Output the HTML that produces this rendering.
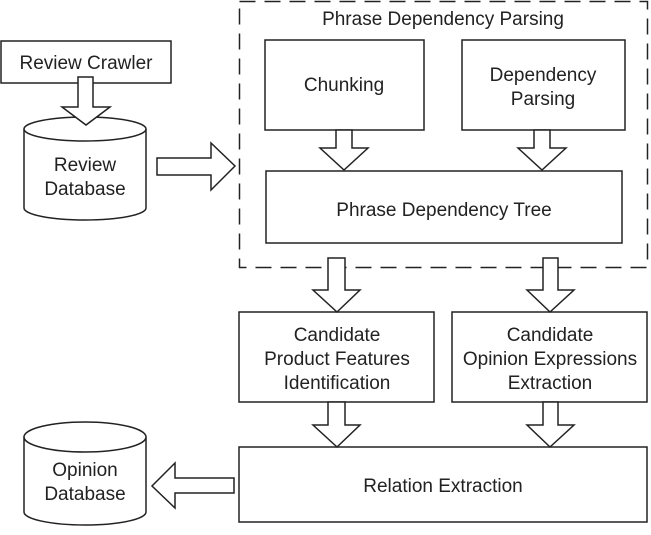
<!DOCTYPE html>
<html><head><style>body{margin:0;background:#fff}</style></head><body>
<svg width="651" height="530" xmlns="http://www.w3.org/2000/svg" font-family="Liberation Sans, sans-serif" font-size="19" fill="#222">
<g stroke="#222" stroke-width="1.5" fill="#fff">
<rect x="239.5" y="1.5" width="408" height="266" stroke-dasharray="16,9" fill="none"/>
<rect x="1" y="41" width="170" height="42"/>
<rect x="265" y="40" width="159" height="90"/>
<rect x="462" y="40" width="163" height="90"/>
<rect x="266" y="171" width="356" height="72"/>
<rect x="239" y="312" width="195" height="90"/>
<rect x="452" y="312" width="195" height="90"/>
<rect x="239" y="447" width="408" height="75"/>
<path d="M24,129 V208 A61,12 0 0 0 146,208 V129"/>
<ellipse cx="85" cy="129" rx="61" ry="12"/>
<path d="M24,437 V512 A61,13 0 0 0 146,512 V437"/>
<ellipse cx="85" cy="437" rx="61" ry="15"/>
<path d="M78,77 H93 V107 H110 L86,125 L62,107 H78 Z"/>
<path d="M157,158 H211 V143 L235,166 L211,190 V175 H157 Z"/>
<path d="M336,130 H352 V148 H368 L344,170 L320,148 H336 Z"/>
<path d="M534,130 H550 V148 H566 L542,170 L518,148 H534 Z"/>
<path d="M328,258 H345 V290 H360 L337,312 L313,290 H328 Z"/>
<path d="M543,258 H558 V290 H574 L550,312 L527,290 H543 Z"/>
<path d="M328,402 H345 V425 H360 L337,447 L313,425 H328 Z"/>
<path d="M543,402 H558 V425 H574 L550,447 L527,425 H543 Z"/>
<path d="M234,478 V493 H175 V508 L152,486 L175,463 V478 Z"/>
</g>
<g text-anchor="middle" stroke="none">
<text x="86" y="69">Review Crawler</text>
<text x="85" y="171">Review</text>
<text x="85" y="195">Database</text>
<text x="443" y="25">Phrase Dependency Parsing</text>
<text x="344" y="91">Chunking</text>
<text x="543" y="81">Dependency</text>
<text x="543" y="105">Parsing</text>
<text x="444" y="216">Phrase Dependency Tree</text>
<text x="337" y="341">Candidate</text>
<text x="337" y="365">Product Features</text>
<text x="337" y="389">Identification</text>
<text x="550" y="341">Candidate</text>
<text x="550" y="365">Opinion Expressions</text>
<text x="550" y="389">Extraction</text>
<text x="443" y="492">Relation Extraction</text>
<text x="85" y="476">Opinion</text>
<text x="85" y="500">Database</text>
</g>
</svg>
</body></html>
